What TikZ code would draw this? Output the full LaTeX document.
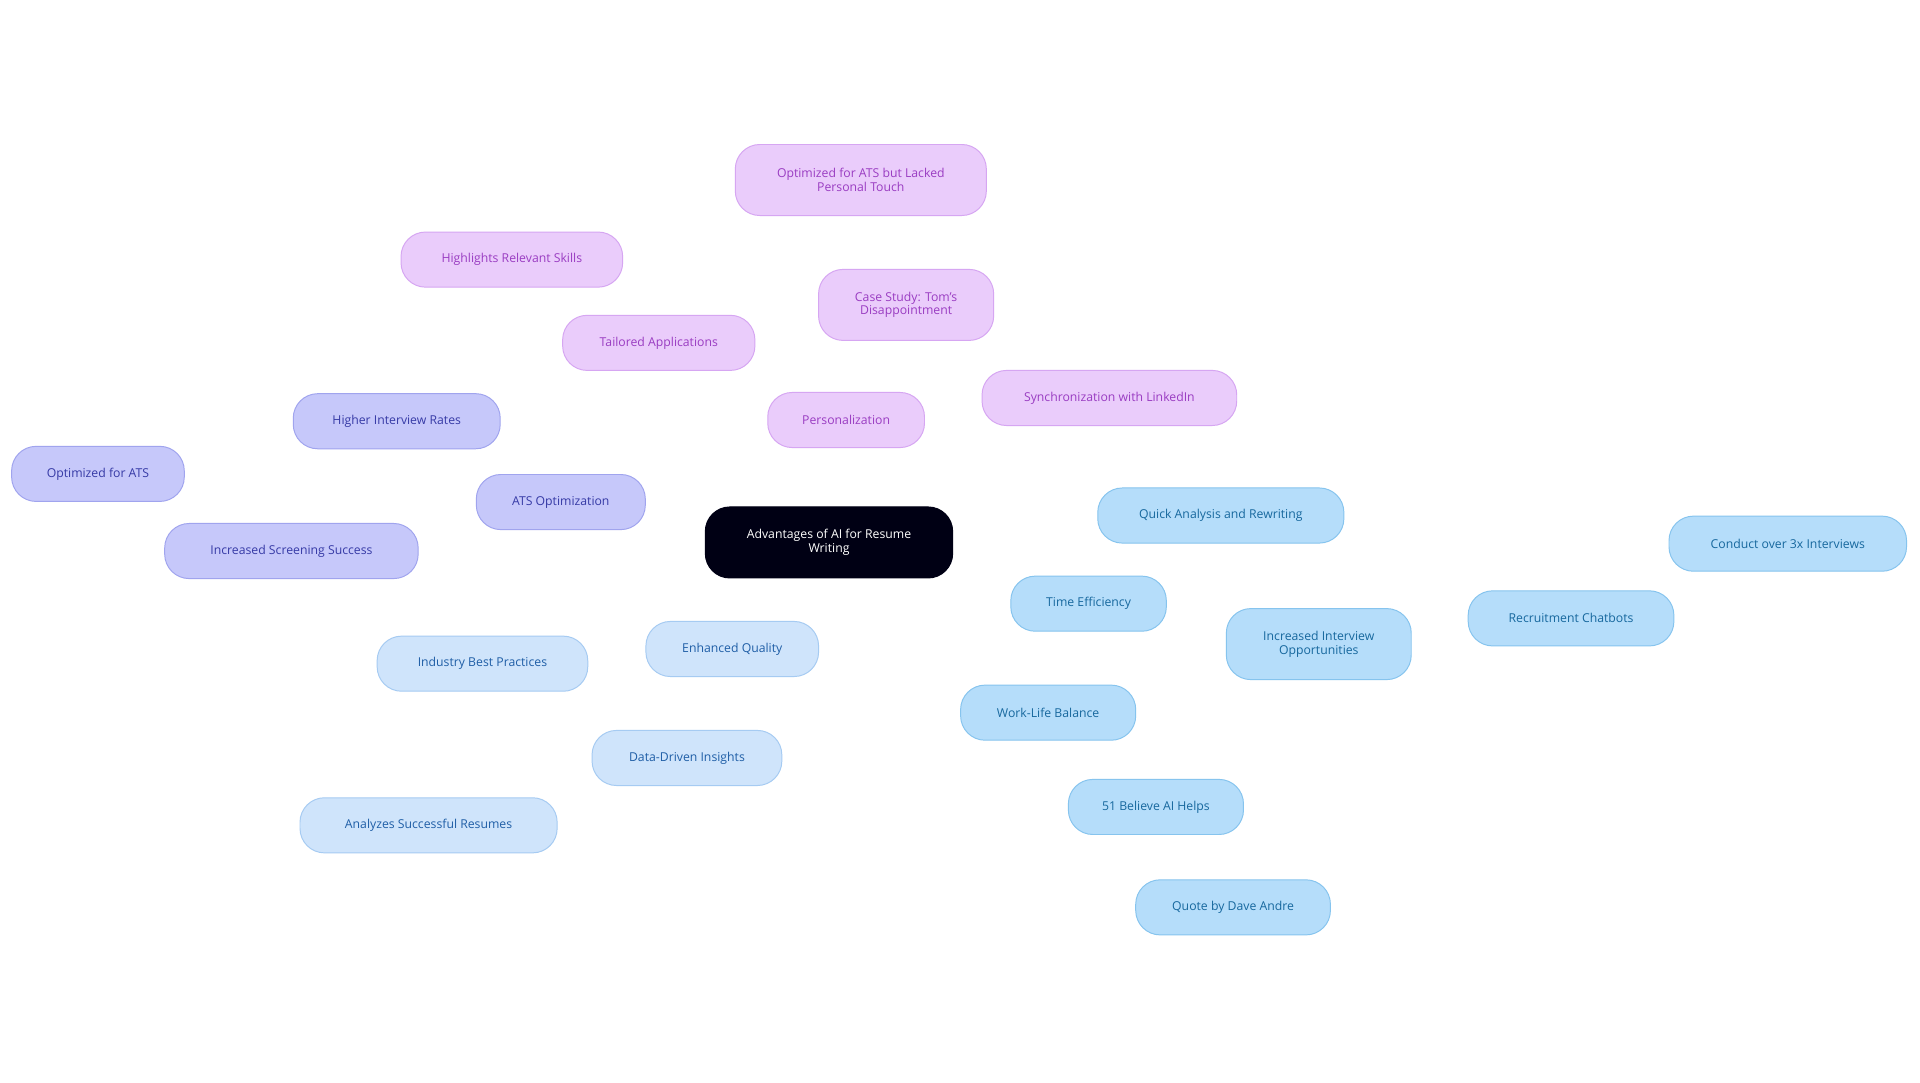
\documentclass[tikz,border=0pt]{standalone}
\usepackage{fontspec}
\setmainfont{Open Sans}
\usetikzlibrary{backgrounds}
\definecolor{pf}{HTML}{EACCFB}\definecolor{pd}{HTML}{D6A6F2}\definecolor{pt}{HTML}{9A3DC2}
\definecolor{lf}{HTML}{C6C8FA}\definecolor{ld}{HTML}{A0A4EE}\definecolor{lt}{HTML}{363AA6}
\definecolor{ef}{HTML}{CFE4FB}\definecolor{ed}{HTML}{A6CBF2}\definecolor{et}{HTML}{1F5EA6}
\definecolor{tf}{HTML}{B5DDFA}\definecolor{td}{HTML}{86C4EE}\definecolor{tt}{HTML}{17689E}
\tikzset{
 x=1pt,y=-1pt,
 base/.style={rounded corners=20pt,minimum height=45pt,align=center,font=\fontsize{10}{11}\selectfont,inner sep=2pt,line width=0.8pt},
 pbox/.style={base,fill=pf,draw=pd,text=pt},
 lbox/.style={base,fill=lf,draw=ld,text=lt},
 ebox/.style={base,fill=ef,draw=ed,text=et},
 tbox/.style={base,fill=tf,draw=td,text=tt},
 pl/.style={draw=pd,line width=1.3pt},
 ll/.style={draw=ld,line width=1.3pt},
 el/.style={draw=ed,line width=1.3pt},
 tl/.style={draw=td,line width=1.3pt},
}
\begin{document}
\begin{tikzpicture}
\useasboundingbox[fill=white] (0,0) rectangle (1568,884);
\node[base,fill=black!92!blue,draw=black!92!blue,text=white,minimum width=202pt,minimum height=58pt] (c) at (677,443) {Advantages of AI for Resume\\Writing};
\node[pbox,minimum width=128pt] (p) at (691,343) {Personalization};
\node[pbox,minimum width=157pt] (p1) at (538,280) {Tailored Applications};
\node[pbox,minimum width=181pt] (p11) at (418,212) {Highlights Relevant Skills};
\node[pbox,minimum width=143pt,minimum height=58pt] (p2) at (740,249) {Case Study: Tom's\\Disappointment};
\node[pbox,minimum width=205pt,minimum height=58pt] (p21) at (703,147) {Optimized for ATS but Lacked\\Personal Touch};
\node[pbox,minimum width=208pt] (p3) at (906,325) {Synchronization with LinkedIn};
\node[lbox,minimum width=138pt] (a) at (458,410) {ATS Optimization};
\node[lbox,minimum width=169pt] (a1) at (324,344) {Higher Interview Rates};
\node[lbox,minimum width=207pt] (a2) at (238,450) {Increased Screening Success};
\node[lbox,minimum width=141pt] (a21) at (80,387) {Optimized for ATS};
\node[ebox,minimum width=141pt] (e) at (598,530) {Enhanced Quality};
\node[ebox,minimum width=172pt] (e1) at (394,542) {Industry Best Practices};
\node[ebox,minimum width=155pt] (e2) at (561,619) {Data-Driven Insights};
\node[ebox,minimum width=210pt] (e21) at (350,674) {Analyzes Successful Resumes};
\node[tbox,minimum width=127pt] (t) at (889,493) {Time Efficiency};
\node[tbox,minimum width=201pt] (t1) at (997,421) {Quick Analysis and Rewriting};
\node[tbox,minimum width=151pt,minimum height=58pt] (t2) at (1077,526) {Increased Interview\\Opportunities};
\node[tbox,minimum width=168pt] (t21) at (1283,505) {Recruitment Chatbots};
\node[tbox,minimum width=194pt] (t211) at (1460,444) {Conduct over 3x Interviews};
\node[tbox,minimum width=143pt] (t3) at (856,582) {Work-Life Balance};
\node[tbox,minimum width=143pt] (t31) at (944,659) {51 Believe AI Helps};
\node[tbox,minimum width=159pt] (t311) at (1007,741) {Quote by Dave Andre};
\begin{scope}[on background layer]
\draw[pl] (c.center)--(p.center) (p.center)--(p1.center) (p1.center)--(p11.center) (p.center)--(p2.center) (p2.center)--(p21.center) (p.center)--(p3.center);
\draw[ll] (c.center)--(a.center) (a.center)--(a1.center) (a.center)--(a2.center) (a2.center)--(a21.center);
\draw[el] (c.center)--(e.center) (e.center)--(e1.center) (e.center)--(e2.center) (e2.center)--(e21.center);
\draw[tl] (c.center)--(t.center) (t.center)--(t1.center) (t.center)--(t2.center) (t2.center)--(t21.center) (t21.center)--(t211.center) (t.center)--(t3.center) (t3.center)--(t31.center) (t31.center)--(t311.center);
\end{scope}
\end{tikzpicture}
\end{document}
